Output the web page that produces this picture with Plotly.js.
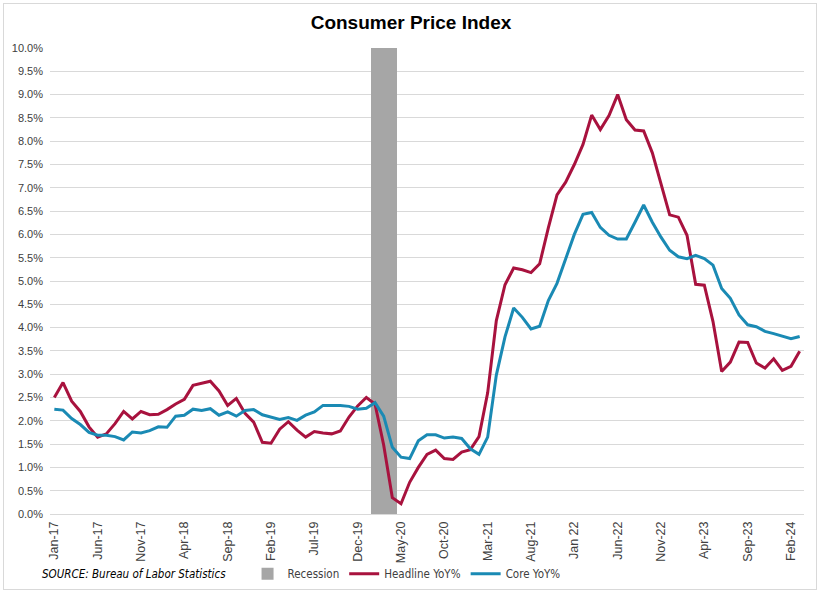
<!DOCTYPE html>
<html>
<head>
<meta charset="utf-8">
<script src="https://cdn.plot.ly/plotly-3.0.1.min.js"></script>
<style>
  html, body { margin: 0; padding: 0; background: #fff; }
  #wrap { position: relative; width: 822px; height: 600px; }
  #chart { width: 822px; height: 600px; }
  #frame { position: absolute; left: 3px; top: 3px; width: 814px; height: 587px;
           border: 1px solid #d9d9d9; pointer-events: none; box-sizing: border-box; }
</style>
</head>
<body>
<div id="wrap"><div id="chart"></div><div id="frame"></div></div>
<script>
// Months Jan-17 .. Mar-24
const monthNames = ["Jan","Feb","Mar","Apr","May","Jun","Jul","Aug","Sep","Oct","Nov","Dec"];
const years = ["17","18","19","20","21","22","23","24"];
const months = [];
years.forEach(y => monthNames.forEach(m => months.push(m + "-" + y)));
months.length = 87; // through Mar-24

const headline = [
  2.50, 2.82, 2.42, 2.20, 1.87, 1.65, 1.72, 1.94, 2.20, 2.04, 2.20, 2.13,
  2.14, 2.24, 2.36, 2.46, 2.76, 2.80, 2.85, 2.64, 2.33, 2.48, 2.16, 1.97,
  1.54, 1.52, 1.82, 1.98, 1.80, 1.65, 1.77, 1.74, 1.72, 1.78, 2.08, 2.32,
  2.50, 2.36, 1.48, 0.35, 0.22, 0.68, 1.00, 1.28, 1.37, 1.19, 1.17, 1.33,
  1.38, 1.66, 2.60, 4.15, 4.92, 5.28, 5.24, 5.18, 5.37, 6.14, 6.85, 7.12,
  7.50, 7.93, 8.56, 8.25, 8.55, 9.00, 8.46, 8.24, 8.22, 7.75, 7.08, 6.42,
  6.37, 5.98, 4.93, 4.91, 4.13, 3.06, 3.26, 3.69, 3.68, 3.24, 3.13, 3.33,
  3.08, 3.17, 3.49
];

const core = [
  2.25, 2.23, 2.05, 1.92, 1.75, 1.69, 1.69, 1.66, 1.59, 1.76, 1.74, 1.79,
  1.87, 1.86, 2.10, 2.12, 2.25, 2.22, 2.26, 2.12, 2.19, 2.10, 2.22, 2.24,
  2.13, 2.08, 2.03, 2.07, 2.01, 2.12, 2.19, 2.33, 2.33, 2.33, 2.31, 2.25,
  2.27, 2.39, 2.10, 1.43, 1.22, 1.19, 1.57, 1.70, 1.70, 1.63, 1.65, 1.62,
  1.40, 1.28, 1.65, 2.98, 3.80, 4.42, 4.22, 3.97, 4.03, 4.58, 4.95, 5.50,
  6.00, 6.43, 6.47, 6.15, 5.98, 5.90, 5.90, 6.26, 6.63, 6.26, 5.94, 5.66,
  5.52, 5.48, 5.55, 5.48, 5.34, 4.84, 4.63, 4.27, 4.06, 4.02, 3.92, 3.87,
  3.81, 3.76, 3.81
];

const recessionMonths = ["Feb-20", "Mar-20", "Apr-20"];
const recessionTop = 10;

const tickMonths = ["Jan-17","Jun-17","Nov-17","Apr-18","Sep-18","Feb-19","Jul-19","Dec-19",
  "May-20","Oct-20","Mar-21","Aug-21","Jan-22","Jun-22","Nov-22","Apr-23","Sep-23","Feb-24"];
const tickLabels = ["Jan-17","Jun-17","Nov-17","Apr-18","Sep-18","Feb-19","Jul-19","Dec-19",
  "May-20","Oct-20","Mar-21","Aug-21","Jan 22","Jun-22","Nov-22","Apr-23","Sep-23","Feb-24"];

const recessionY = months.map(m => recessionMonths.includes(m) ? recessionTop : null);

const narrow = "'Liberation Sans Narrow', 'Arial Narrow', 'DejaVu Sans Condensed', 'Liberation Sans', Arial, sans-serif";
const arial = "'Liberation Sans', Arial, sans-serif";

const traces = [
  { type: "bar", name: "Recession", x: months, y: recessionY,
    marker: { color: "#a6a6a6", line: { width: 0 } } },
  { type: "scatter", mode: "lines", name: "Headline YoY%", x: months, y: headline,
    line: { color: "#a8123e", width: 3 } },
  { type: "scatter", mode: "lines", name: "Core YoY%", x: months, y: core,
    line: { color: "#1a8ab4", width: 3 } }
];

const layout = {
  width: 822, height: 600,
  margin: { l: 50, r: 18, t: 48, b: 83 },
  paper_bgcolor: "#fff", plot_bgcolor: "#fff",
  title: { text: "<b>Consumer Price Index</b>", x: 0.5, xref: "container", xanchor: "center",
           y: 0.963, yref: "container", yanchor: "middle",
           font: { family: arial, size: 19, color: "#000" } },
  bargap: 0,
  hovermode: false,
  xaxis: {
    type: "category", categoryorder: "array", categoryarray: months,
    range: [-0.5, 86.5], automargin: false,
    tickmode: "array", tickvals: tickMonths, ticktext: tickLabels,
    tickangle: -90, tickfont: { family: arial, size: 12.5, color: "#404040" },
    ticklabelstandoff: 4,
    showgrid: false, showline: false, ticks: "", zeroline: false, fixedrange: true
  },
  yaxis: {
    range: [0, 10], dtick: 0.5, tick0: 0, tickformat: ".1f", ticksuffix: "%",
    tickfont: { family: arial, size: 11, color: "#404040" },
    ticklabelstandoff: 6, automargin: false,
    showgrid: true, gridcolor: "#d9d9d9", gridwidth: 1,
    zeroline: true, zerolinecolor: "#d9d9d9", zerolinewidth: 1,
    showline: false, ticks: "", fixedrange: true
  },
  showlegend: true,
  legend: {
    orientation: "h", x: 0.262, xanchor: "left", y: -0.128, yanchor: "middle",
    font: { family: narrow, size: 11.5, color: "#404040" },
    itemwidth: 30, tracegroupgap: 0, bgcolor: "rgba(0,0,0,0)"
  },
  annotations: [
    { text: "<i>SOURCE: Bureau of Labor Statistics</i>", xref: "paper", yref: "paper",
      x: -0.013, xanchor: "left", y: -0.128, yanchor: "middle", showarrow: false,
      font: { family: narrow, size: 11.5, color: "#000" } }
  ]
};

Plotly.newPlot("chart", traces, layout, { displayModeBar: false, staticPlot: true });
</script>
</body>
</html>
